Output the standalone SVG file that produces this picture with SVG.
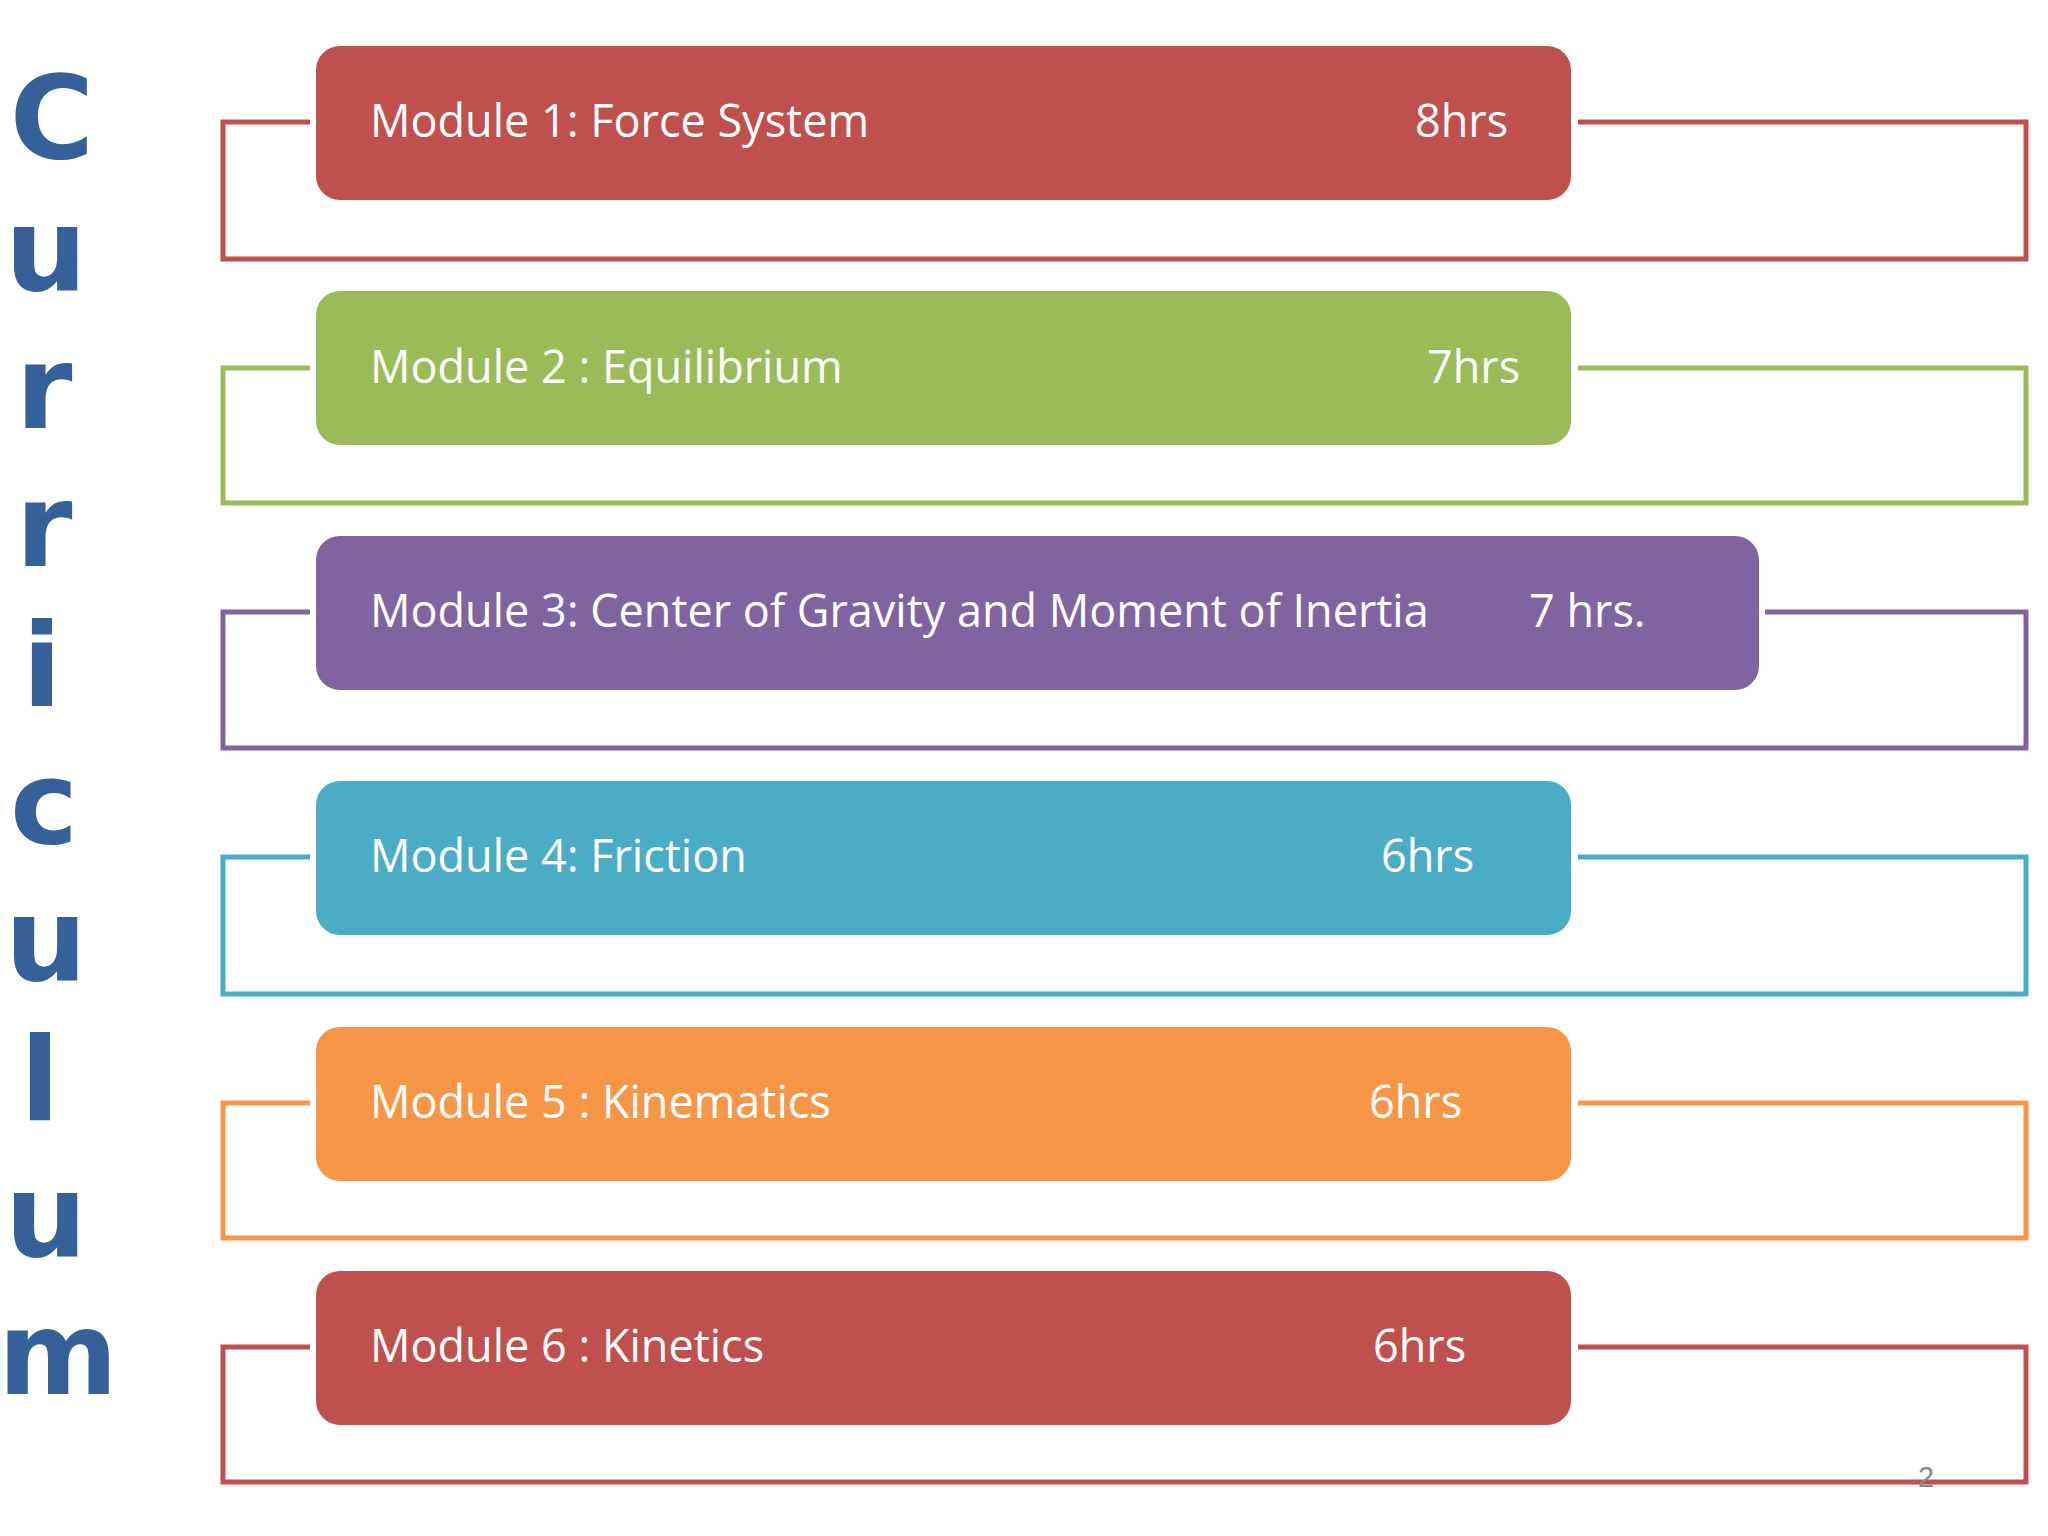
<svg xmlns="http://www.w3.org/2000/svg" width="2048" height="1536" viewBox="0 0 2048 1536">
<style>
.t{font-family:"Open Sans","Liberation Sans",sans-serif;font-size:45px;fill:#fff}
.c{fill:none;stroke-width:5}
.L{font-family:"DejaVu Sans",sans-serif;font-weight:bold;font-size:115px;fill:#36609A;text-anchor:middle}
</style>
<rect width="2048" height="1536" fill="#fff"/>
<g id="title">
<text class="L" x="52" y="158">C</text>
<text class="L" x="46" y="290">u</text>
<text class="L" x="44" y="428">r</text>
<text class="L" x="44" y="566">r</text>
<text class="L" x="42" y="706">i</text>
<text class="L" x="44" y="843">c</text>
<text class="L" x="46" y="980">u</text>
<text class="L" x="40" y="1120">l</text>
<text class="L" x="46" y="1256">u</text>
<text class="L" x="58" y="1394">m</text>
</g>
<g id="connectors">
<path class="c" stroke="#C0504D" d="M310 122H223V259H2026V122H1578"/>
<path class="c" stroke="#9BBB59" d="M310 368H223V503H2026V368H1578"/>
<path class="c" stroke="#8064A2" d="M310 612H223V748H2026V612H1765"/>
<path class="c" stroke="#4BACC6" d="M310 857H223V994H2026V857H1578"/>
<path class="c" stroke="#F79646" d="M310 1103H223V1238H2026V1103H1578"/>
<path class="c" stroke="#C0504D" d="M310 1347H223V1482H2026V1347H1578"/>
</g>
<g id="m1"><rect x="316" y="46" width="1255" height="154" rx="24" fill="#C0504D"/><text class="t" x="370" y="137">Module 1: Force System</text><text class="t" x="1415" y="137">8hrs</text></g>
<g id="m2"><rect x="316" y="291" width="1255" height="154" rx="24" fill="#9BBB59"/><text class="t" x="370" y="383">Module 2 : Equilibrium</text><text class="t" x="1427" y="383">7hrs</text></g>
<g id="m3"><rect x="316" y="536" width="1443" height="154" rx="24" fill="#8064A2"/><text class="t" x="370" y="627">Module 3: Center of Gravity and Moment of Inertia</text><text class="t" x="1529" y="627">7 hrs.</text></g>
<g id="m4"><rect x="316" y="781" width="1255" height="154" rx="24" fill="#4BACC6"/><text class="t" x="370" y="872">Module 4: Friction</text><text class="t" x="1381" y="872">6hrs</text></g>
<g id="m5"><rect x="316" y="1027" width="1255" height="154" rx="24" fill="#F79646"/><text class="t" x="370" y="1118">Module 5 : Kinematics</text><text class="t" x="1369" y="1118">6hrs</text></g>
<g id="m6"><rect x="316" y="1271" width="1255" height="154" rx="24" fill="#C0504D"/><text class="t" x="370" y="1362">Module 6 : Kinetics</text><text class="t" x="1373" y="1362">6hrs</text></g>
<text x="1926" y="1487" font-family="Liberation Sans,sans-serif" font-size="29" fill="#888" text-anchor="middle">2</text>
</svg>
